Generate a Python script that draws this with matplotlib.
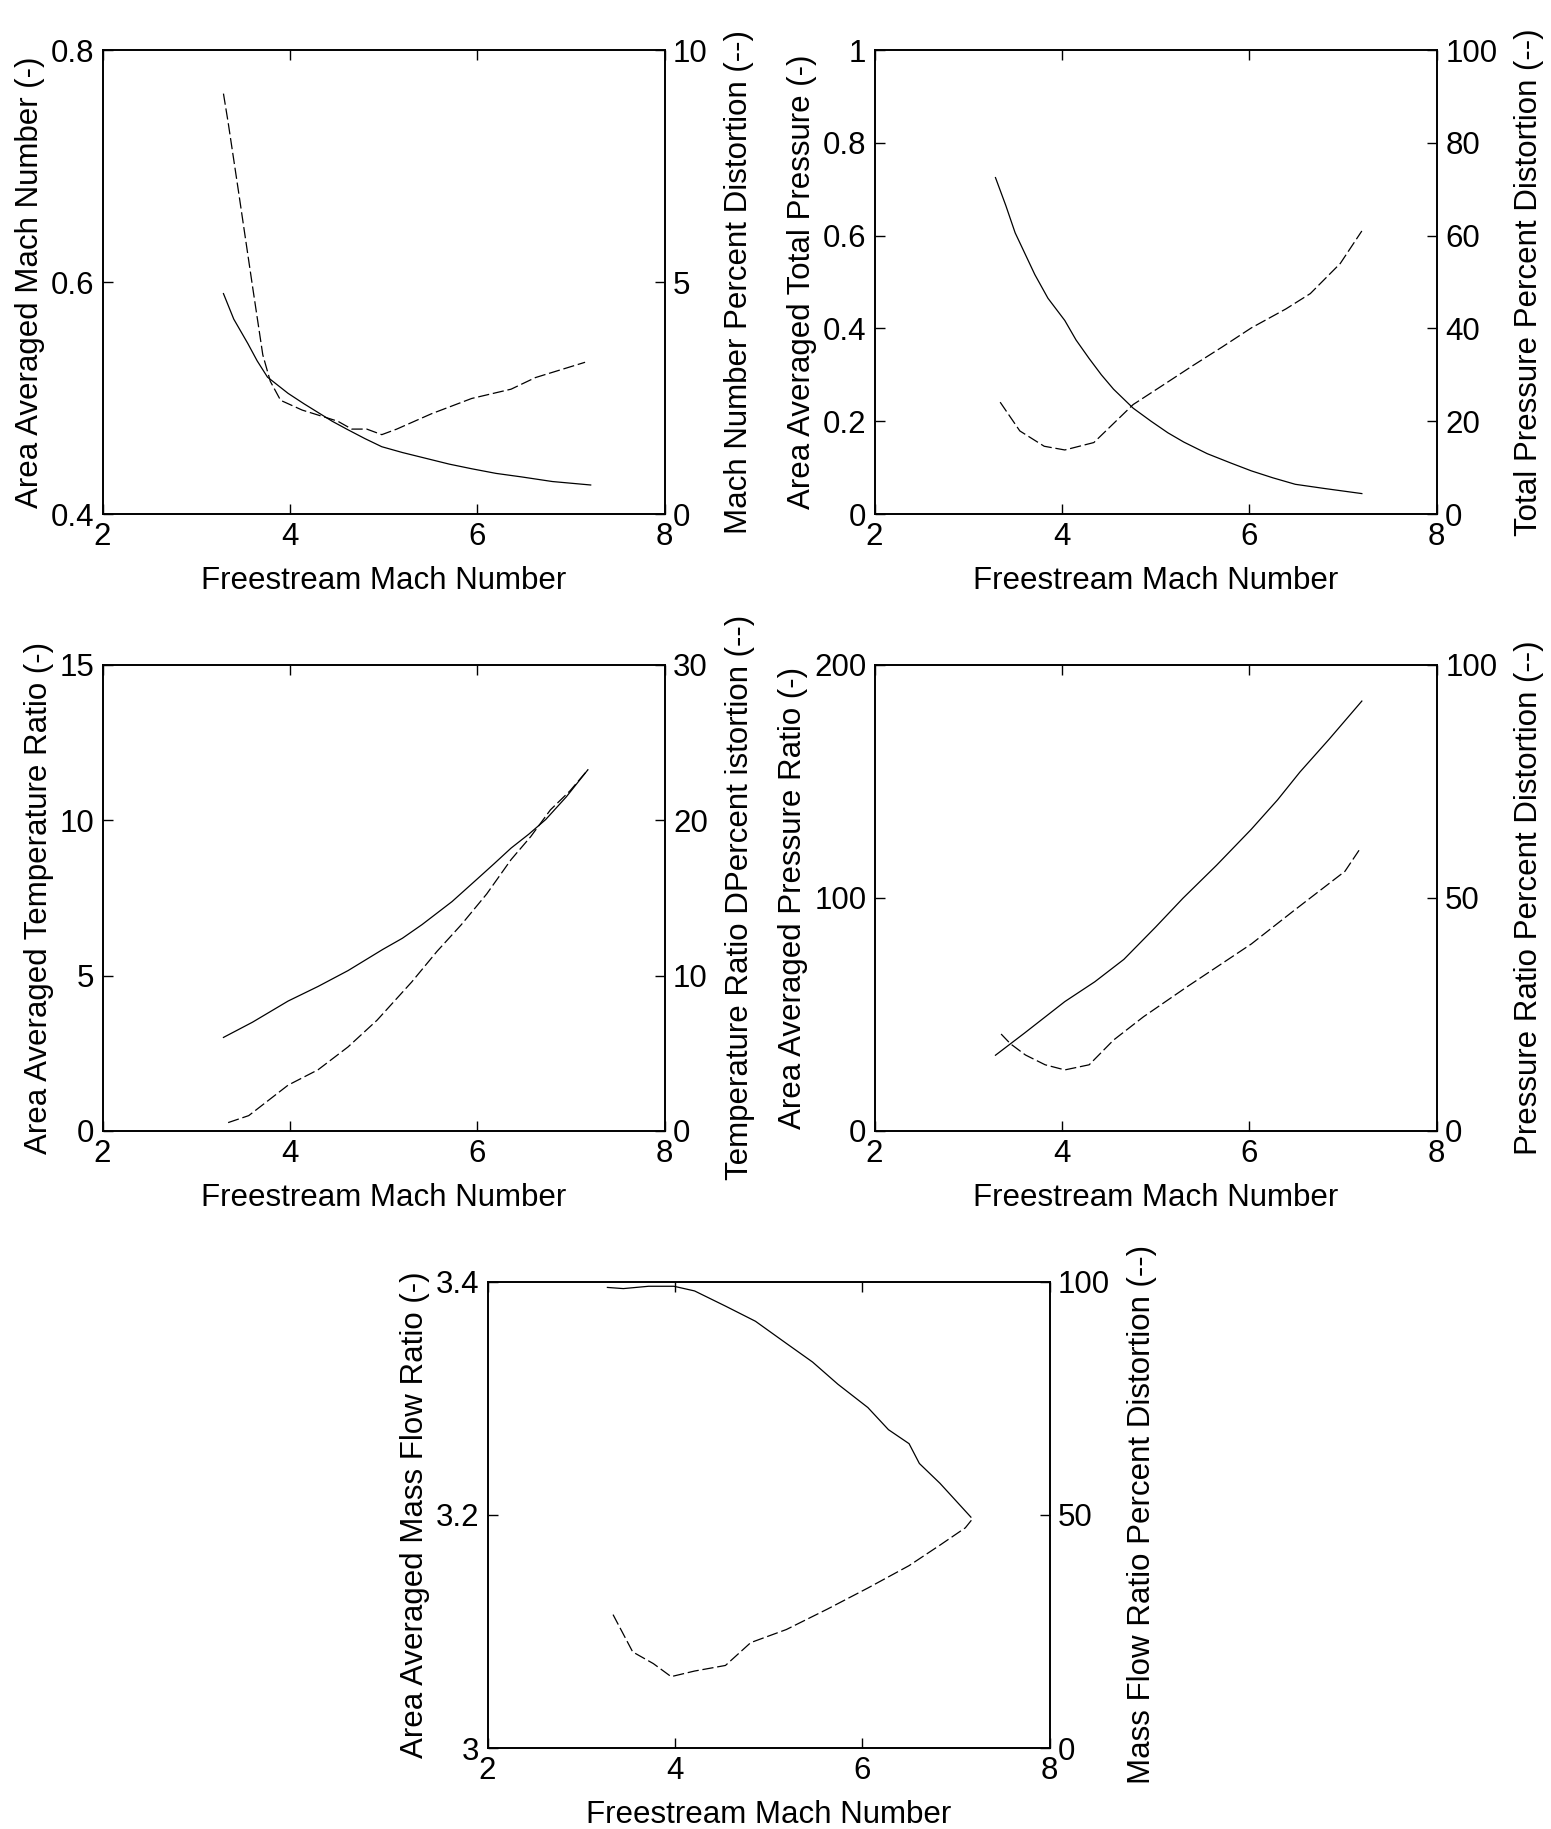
import matplotlib
matplotlib.use("Agg")
import matplotlib.pyplot as plt

plt.rcParams['font.family'] = ['Liberation Sans', 'DejaVu Sans']
plt.rcParams['font.size'] = 22.5

# ---- Panel 1: Mach number ----
m1_x = [3.29, 3.40, 3.55, 3.65, 3.76, 3.98, 4.15, 4.29, 4.45, 4.61, 4.80, 4.98, 5.20, 5.40, 5.70, 5.94, 6.20, 6.47, 6.80, 7.21]
m1_y = [0.590, 0.568, 0.547, 0.532, 0.518, 0.504, 0.495, 0.488, 0.480, 0.473, 0.465, 0.458, 0.453, 0.449, 0.443, 0.439, 0.435, 0.432, 0.428, 0.425]
m1d_x = [3.29, 3.34, 3.45, 3.60, 3.71, 3.79, 3.90, 4.13, 4.51, 4.66, 4.82, 4.98, 5.14, 5.51, 5.94, 6.36, 6.62, 7.15]
m1d_y = [9.06, 8.44, 6.96, 4.91, 3.43, 2.86, 2.45, 2.24, 2.00, 1.83, 1.83, 1.71, 1.83, 2.16, 2.49, 2.69, 2.94, 3.27]

# ---- Panel 2: Total pressure ----
p2_x = [3.29, 3.40, 3.50, 3.71, 3.85, 4.03, 4.15, 4.29, 4.42, 4.55, 4.76, 4.95, 5.13, 5.30, 5.55, 5.80, 6.02, 6.25, 6.49, 6.80, 7.20]
p2_y = [0.725, 0.665, 0.606, 0.516, 0.465, 0.417, 0.375, 0.335, 0.300, 0.269, 0.228, 0.200, 0.175, 0.155, 0.130, 0.110, 0.093, 0.078, 0.064, 0.055, 0.044]
p2d_x = [3.34, 3.55, 3.81, 4.03, 4.34, 4.55, 4.76, 5.08, 5.39, 5.71, 6.02, 6.39, 6.65, 6.97, 7.20]
p2d_y = [24.1, 17.9, 14.6, 13.8, 15.4, 19.5, 23.6, 27.8, 31.9, 36.0, 40.1, 44.2, 47.5, 54.0, 61.0]

# ---- Panel 3: Temperature ratio ----
t3_x = [3.29, 3.60, 3.98, 4.30, 4.62, 4.99, 5.20, 5.41, 5.73, 6.00, 6.18, 6.36, 6.55, 6.73, 6.95, 7.18]
t3_y = [3.01, 3.50, 4.18, 4.65, 5.16, 5.84, 6.20, 6.64, 7.38, 8.11, 8.60, 9.10, 9.55, 10.02, 10.75, 11.62]
t3d_x = [3.34, 3.56, 3.98, 4.30, 4.62, 4.93, 5.30, 5.57, 5.83, 6.10, 6.36, 6.57, 6.78, 6.99, 7.18]
t3d_y = [0.54, 0.99, 2.95, 3.94, 5.41, 7.13, 9.59, 11.56, 13.28, 15.25, 17.46, 18.94, 20.66, 21.89, 23.24]

# ---- Panel 4: Pressure ratio ----
r4_x = [3.29, 3.60, 4.03, 4.35, 4.66, 5.00, 5.29, 5.65, 6.02, 6.30, 6.54, 6.85, 7.20]
r4_y = [32.5, 42.0, 55.5, 64.0, 73.6, 87.5, 99.8, 114.0, 129.4, 142.0, 154.0, 168.0, 184.4]
r4d_x = [3.35, 3.45, 3.61, 3.82, 4.03, 4.29, 4.55, 4.87, 5.34, 6.02, 6.49, 7.02, 7.17]
r4d_y = [20.8, 18.7, 16.3, 14.2, 13.1, 14.2, 19.5, 24.5, 31.0, 40.1, 47.5, 55.7, 60.2]

# ---- Panel 5: Mass flow ratio ----
w5_x = [3.28, 3.45, 3.72, 3.99, 4.21, 4.54, 4.86, 5.19, 5.47, 5.74, 6.06, 6.28, 6.50, 6.61, 6.83, 7.16]
w5_y = [3.395, 3.394, 3.396, 3.396, 3.392, 3.379, 3.366, 3.347, 3.331, 3.312, 3.292, 3.273, 3.261, 3.244, 3.227, 3.198]
w5d_x = [3.34, 3.55, 3.77, 3.96, 4.21, 4.54, 4.81, 5.19, 5.63, 6.06, 6.50, 6.83, 7.10, 7.18]
w5d_y = [28.6, 20.6, 18.1, 15.3, 16.5, 17.7, 22.6, 25.4, 29.8, 34.3, 39.1, 43.5, 47.2, 49.2]

xticks = [2, 4, 6, 8]
xlabel = "Freestream Mach Number"

panels = [
    dict(rect=[102.6, 50, 664.7, 514], sx=m1_x, sy=m1_y, dx=m1d_x, dy=m1d_y,
         ylim=(0.4, 0.8), yticks=[0.4, 0.6, 0.8], ytl=["0.4", "0.6", "0.8"],
         ylim2=(0, 10), yticks2=[0, 5, 10],
         ylab="Area Averaged Mach Number (-)", ylab2="Mach Number Percent Distortion (--)"),
    dict(rect=[874.6, 50, 1436.8, 514], sx=p2_x, sy=p2_y, dx=p2d_x, dy=p2d_y,
         ylim=(0, 1), yticks=[0, 0.2, 0.4, 0.6, 0.8, 1], ytl=["0", "0.2", "0.4", "0.6", "0.8", "1"],
         ylim2=(0, 100), yticks2=[0, 20, 40, 60, 80, 100],
         ylab="Area Averaged Total Pressure (-)", ylab2="Total Pressure Percent Distortion (--)"),
    dict(rect=[102.6, 664.7, 664.7, 1131], sx=t3_x, sy=t3_y, dx=t3d_x, dy=t3d_y,
         ylim=(0, 15), yticks=[0, 5, 10, 15], ytl=["0", "5", "10", "15"],
         ylim2=(0, 30), yticks2=[0, 10, 20, 30],
         ylab="Area Averaged Temperature Ratio (-)", ylab2="Temperature Ratio DPercent istortion (--)"),
    dict(rect=[874.6, 664.7, 1436.8, 1131], sx=r4_x, sy=r4_y, dx=r4d_x, dy=r4d_y,
         ylim=(0, 200), yticks=[0, 100, 200], ytl=["0", "100", "200"],
         ylim2=(0, 100), yticks2=[0, 50, 100],
         ylab="Area Averaged Pressure Ratio (-)", ylab2="Pressure Ratio Percent Distortion (--)"),
    dict(rect=[487.5, 1281.6, 1049.6, 1748], sx=w5_x, sy=w5_y, dx=w5d_x, dy=w5d_y,
         ylim=(3.0, 3.4), yticks=[3.0, 3.2, 3.4], ytl=["3", "3.2", "3.4"],
         ylim2=(0, 100), yticks2=[0, 50, 100],
         ylab="Area Averaged Mass Flow Ratio (-)", ylab2="Mass Flow Ratio Percent Distortion (--)"),
]

W, H = 1551, 1829
fig = plt.figure(figsize=(W / 100, H / 100), dpi=100)

for p in panels:
    x0, y0, x1, y1 = p["rect"]
    ax = fig.add_axes([x0 / W, 1 - y1 / H, (x1 - x0) / W, (y1 - y0) / H])
    ax2 = ax.twinx()
    ax.plot(p["sx"], p["sy"], color="black", lw=0.9)
    ax2.plot(p["dx"], p["dy"], color="black", lw=0.9, linestyle=(0, (9, 3)))
    ax.set_xlim(2, 8)
    ax.set_xticks(xticks)
    ax.set_ylim(*p["ylim"])
    ax.set_yticks(p["yticks"])
    ax.set_yticklabels(p["ytl"])
    ax2.set_ylim(*p["ylim2"])
    ax2.set_yticks(p["yticks2"])
    ax.tick_params(direction="in", length=7, width=1, top=True, right=False, pad=6)
    ax2.tick_params(direction="in", length=7, width=1, pad=6)
    ax.set_xlabel(xlabel, labelpad=10)
    ax.set_ylabel(p["ylab"], labelpad=4)
    ax2.set_ylabel(p["ylab2"], labelpad=12)
    for s in ax.spines.values():
        s.set_linewidth(1.2)
    for s in ax2.spines.values():
        s.set_linewidth(1.2)

fig.savefig("out.png", dpi=100, facecolor="white")
